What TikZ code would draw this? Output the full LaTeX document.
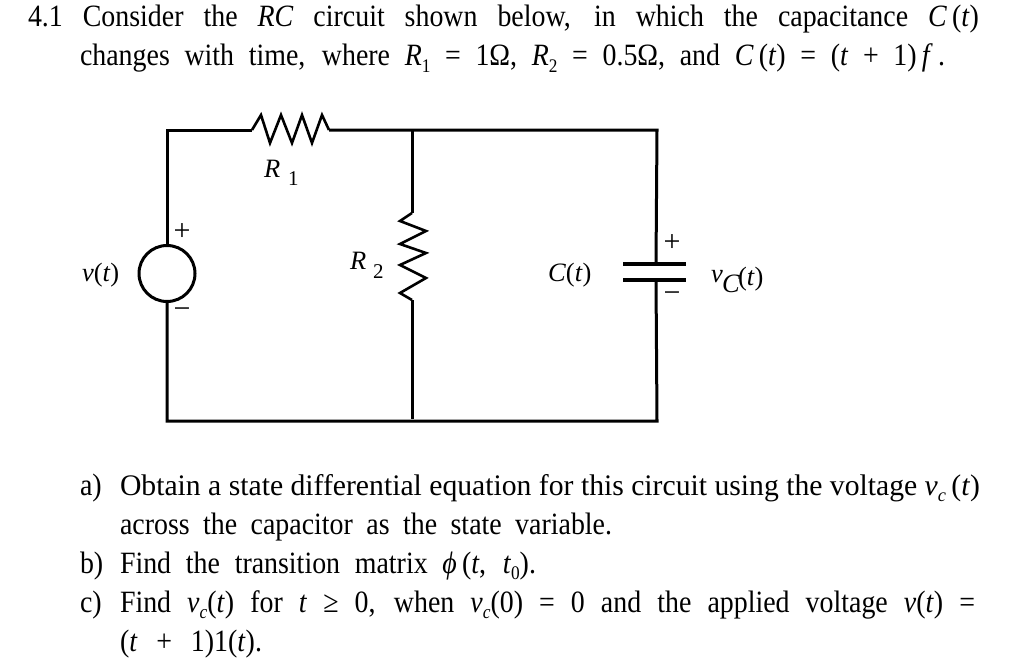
\documentclass[tikz,border=0pt]{standalone}
\usepackage{fontspec}
\setmainfont{Liberation Serif}
\newfontfamily\bodyf[FakeStretch=0.9]{Liberation Serif}
\newcommand{\ttx}[1]{\textit{#1}}
\newcommand{\sbs}[1]{\raisebox{-0.22em}{\scalebox{0.62}{#1}}}
\newcommand{\sline}[2]{\makebox[#1][s]{#2}}
\begin{document}
\begin{tikzpicture}[x=1pt,y=-1pt,
  wire/.style={line width=3pt,line join=miter,line cap=butt},
  zig/.style={line width=2.6pt,line join=miter},
  plate/.style={line width=3.6pt},
  txt/.style={anchor=base west,inner sep=0pt,outer sep=0pt,font=\bodyf\fontsize{31}{33}\selectfont},
  lab/.style={anchor=base west,inner sep=0pt,outer sep=0pt,font=\fontsize{26.5}{28}\selectfont},
  sub/.style={anchor=base west,inner sep=0pt,outer sep=0pt,font=\fontsize{21}{23}\selectfont},
  sign/.style={anchor=center,inner sep=0pt,outer sep=0pt,font=\fontsize{30}{32}\selectfont},
  source/.style={circle,draw,line width=3pt,minimum size=56pt,inner sep=0pt}]
\useasboundingbox (0,0) rectangle (1024,669);
% problem statement
\node[txt] (l0) at (28,27) {\sline{951pt}{4.1 Consider the \ttx{RC} circuit shown below, in which the capacitance \ttx{C}\,(\ttx{t})}};
\node[txt] (l1) at (80,66) {\sline{865pt}{changes with time, where \ttx{R}\sbs{1} = 1Ω, \ttx{R}\sbs{2} = 0.5Ω, and \ttx{C}\,(\ttx{t}) = (\ttx{t} + 1)\,\ttx{f}\,.}};
% corners
\coordinate (tl) at (167,130);
\coordinate (tr) at (657,130);
\coordinate (bl) at (167,421);
\coordinate (br) at (657,421);
\coordinate (jt) at (412,130);
\coordinate (jb) at (412,419);
\coordinate (r1a) at (252,130);
\coordinate (r1b) at (329,130);
\coordinate (r2a) at (412,213);
\coordinate (r2b) at (412,300);
\node[source] (vs) at (167,273.5) {};
\coordinate (c1) at (656,264);
\coordinate (c2) at (656,280);
% wires
\draw[wire] (vs.north) -- (tl) -- (r1a);
\draw[wire] (r1b) -- (tr) -- (c1);
\draw[wire] (vs.south) -- (bl) -- (br) -- (c2);
\draw[wire] (jt) -- (r2a);
\draw[wire] (r2b) -- (jb);
% resistors
\draw[zig] (r1a) -- (261,115) -- (270,143) -- (281,115) -- (292,143) -- (302,115) -- (312,143) -- (322,115) -- (r1b);
\draw[zig] (r2a) -- (400,221) -- (426,231) -- (400,244) -- (426,253) -- (400,265) -- (426,278) -- (400,293) -- (r2b);
% capacitor
\draw[plate] (623,264) -- (686,264);
\draw[plate] (623,280) -- (686,280);
% labels
\node[lab] (lv) at (82,281) {\ttx{v}(\ttx{t})};
\node[sign] (sp) at (182,232) {+};
\node[sign] (sm) at (182,313) {−};
\node[lab] (lr1) at (264,177) {\ttx{R}};
\node[sub] (lr1s) at (288,185) {1};
\node[lab] (lr2) at (350,269) {\ttx{R}};
\node[sub] (lr2s) at (373,278) {2};
\node[lab] (lc) at (548,281) {\ttx{C}(\ttx{t})};
\node[sign] (cp) at (672,243) {+};
\node[sign] (cm) at (672,297) {−};
\node[lab] (lvc) at (711,282) {\ttx{v}};
\node[lab] (lvcs) at (722,292) {\ttx{C}};
\node[lab] (lvct) at (738,285) {(\ttx{t})};
% questions
\node[txt] (a0) at (80,495) {a)};
\node[txt] (a1) at (120,495) {\resizebox{860pt}{21pt}{Obtain a state differential equation for this circuit using the voltage \ttx{v}\sbs{\ttx{c}}\,(\ttx{t})}};
\node[txt] (a2) at (120,534) {\sline{492pt}{across the capacitor as the state variable.}};
\node[txt] (b0) at (80,573) {b)};
\node[txt] (b1) at (120,573) {\sline{416pt}{Find the transition matrix \ttx{ϕ}\,(\ttx{t}, \ttx{t}\sbs{0}).}};
\node[txt] (c0) at (80,612) {c)};
\node[txt] (c1t) at (120,612) {\sline{855pt}{Find \ttx{v}\sbs{\ttx{c}}(\ttx{t}) for \ttx{t} ≥ 0, when \ttx{v}\sbs{\ttx{c}}(0) = 0 and the applied voltage \ttx{v}(\ttx{t}) =}};
\node[txt] (c2t) at (120,651) {\sline{142pt}{(\ttx{t} + 1)1(\ttx{t}).}};
\end{tikzpicture}
\end{document}
